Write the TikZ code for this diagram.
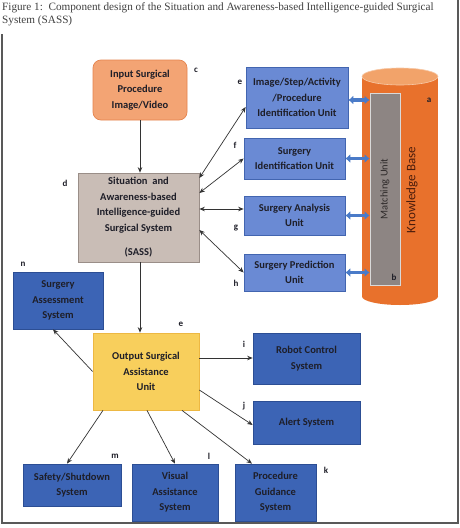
\documentclass[tikz,border=0pt]{standalone}
\usepackage{fontspec}
\setmainfont{Liberation Serif}
\newfontfamily\boxfont{Carlito}
\usetikzlibrary{calc}
\usetikzlibrary{positioning}
\usetikzlibrary{arrows.meta}

\definecolor{inputfill}{HTML}{F3A474}
\definecolor{inputdraw}{HTML}{E5844E}
\definecolor{upblue}{HTML}{6A8AD4}
\definecolor{upbluedraw}{HTML}{4265B0}
\definecolor{lowblue}{HTML}{3C64B5}
\definecolor{lowbluedraw}{HTML}{2C4E94}
\definecolor{sassgrey}{HTML}{C9BDB6}
\definecolor{sassdraw}{HTML}{9A8E88}
\definecolor{outyellow}{HTML}{F8CF5C}
\definecolor{outdraw}{HTML}{EDB843}
\definecolor{kborange}{HTML}{E8712C}
\definecolor{kbtop}{HTML}{F2A36A}
\definecolor{kbink}{HTML}{4A1C0C}
\definecolor{matchgrey}{HTML}{8D8583}
\definecolor{matchink}{HTML}{2E2A2A}
\definecolor{linkblue}{HTML}{4A7BC8}
\definecolor{inktext}{HTML}{1E1E28}

\tikzset{
  unit/.style={draw, line width=0.7pt, align=center, inner sep=1pt,
    text=inktext, font=\boxfont\bfseries\fontsize{10.5}{15.5}\selectfont},
  inputbox/.style={unit, rounded corners=8pt, fill=inputfill, draw=inputdraw},
  sassbox/.style={unit, fill=sassgrey, draw=sassdraw},
  idbox/.style={unit, fill=upblue, draw=upbluedraw},
  outbox/.style={unit, fill=outyellow, draw=outdraw},
  sysbox/.style={unit, fill=lowblue, draw=lowbluedraw},
  lbl/.style={font=\boxfont\bfseries\fontsize{9}{9}\selectfont, text=inktext, inner sep=0pt},
  flow/.style={draw=black!80, line width=0.7pt, -{Stealth[length=5.5pt,width=4.5pt]}},
  both/.style={flow, {Stealth[length=5.5pt,width=4.5pt]}-{Stealth[length=5.5pt,width=4.5pt]}},
  kblink/.style={draw=linkblue, line width=3.2pt,
    {Latex[length=5pt,width=9pt]}-{Latex[length=5pt,width=9pt]}},
}

\begin{document}
\begin{tikzpicture}[x=1pt,y=-1pt]
\useasboundingbox (0,0) rectangle (460,528);
\fill[white] (0,0) rectangle (460,528);
\draw[black!65, line width=1.2pt] (2,34) -- (2,523) -- (458,523) -- (458,0);

% title
\node[anchor=north west, inner sep=0pt, align=left, text=black!75,
      font=\fontsize{11.2}{13}\selectfont] (title) at (2,2)
  {Figure 1:\ \ Component design of the Situation and Awareness-based Intelligence-guided Surgical\\System (SASS)};

% knowledge base
\fill[kborange] (400,296.5) ellipse [x radius=38, y radius=8.5];
\fill[kborange] (362,76.5) rectangle (438,296.5);
\filldraw[fill=kbtop, draw=kbtop!60!white, line width=0.6pt] (400,76.5) ellipse [x radius=38, y radius=8.5];
\node[rotate=90, font=\boxfont\fontsize{13}{13}\selectfont, text=kbink] (kbtext) at (412,190) {Knowledge Base};
\node[draw=black!15, line width=0.8pt, fill=matchgrey, minimum width=30pt, minimum height=192pt,
      inner sep=0pt, label={[rotate=90, font=\boxfont\fontsize{10.5}{10.5}\selectfont, text=matchink]center:Matching Unit}]
      (match) at (385,189) {};

% units
\node[inputbox, minimum width=94pt, minimum height=60pt] (input) at (140,90)
  {Input Surgical\\Procedure\\Image/Video};
\node[sassbox, minimum width=121pt, minimum height=89pt] (sass) at (138.5,217.5)
  {Situation\ \ and\\Awareness-based\\Intelligence-guided\\Surgical System\\[9pt](SASS)};
\node[idbox, minimum width=102pt, minimum height=61pt] (ident) at (297,97.5)
  {Image/Step/Activity\\/Procedure\\Identification Unit};
\node[idbox, minimum width=101pt, minimum height=41pt] (surgid) at (294.5,158.5)
  {Surgery\\Identification Unit};
\node[idbox, minimum width=101pt, minimum height=39pt] (analysis) at (294.5,215.5)
  {Surgery Analysis\\Unit};
\node[idbox, minimum width=101pt, minimum height=37pt] (predict) at (294.5,272.5)
  {Surgery Prediction\\Unit};
\node[sysbox, minimum width=90pt, minimum height=57pt] (assess) at (58,300.5)
  {Surgery\\Assessment\\System};
\node[outbox, minimum width=106pt, minimum height=77pt] (output) at (146,371.5)
  {Output Surgical\\Assistance\\Unit};
\node[sysbox, minimum width=107pt, minimum height=51pt] (robot) at (306.5,358.5)
  {Robot Control\\System};
\node[sysbox, minimum width=107pt, minimum height=43pt] (alert) at (306.5,422.5)
  {Alert System};
\node[sysbox, minimum width=98pt, minimum height=42pt] (safety) at (72,485)
  {Safety/Shutdown\\System};
\node[sysbox, minimum width=86pt, minimum height=57pt] (visual) at (175,492.5)
  {Visual\\Assistance\\System};
\node[sysbox, minimum width=81pt, minimum height=57pt] (guide) at (275.5,492.5)
  {Procedure\\Guidance\\System};

% letters
\node[lbl] (la) at (429,100) {a};
\node[lbl] (lb) at (394,277) {b};
\node[lbl] (lc) at (196,70) {c};
\node[lbl] (ld) at (65,183) {d};
\node[lbl] (le) at (240,82) {e};
\node[lbl] (lf) at (235,145) {f};
\node[lbl] (lg) at (236,228) {g};
\node[lbl] (lh) at (236,283) {h};
\node[lbl] (ln) at (23,264) {n};
\node[lbl] (lo) at (181,324) {e};
\node[lbl] (li) at (244,344) {i};
\node[lbl] (lj) at (244,406) {j};
\node[lbl] (lm) at (115,456) {m};
\node[lbl] (ll) at (209,456) {l};
\node[lbl] (lk) at (326,470) {k};

% connectors
\draw[flow] (input.south) -- (input.south |- sass.north);
\draw[both] ([yshift=39.5pt]sass.east) -- ([yshift=-9.5pt]ident.west);
\draw[both] ([yshift=24.5pt]sass.east) -- (surgid.west);
\draw[both] ([yshift=8.5pt]sass.east) -- ([yshift=6.5pt]analysis.west);
\draw[both] ([yshift=-12.5pt]sass.east) -- (predict.west);
\draw[flow] (input.south |- sass.south) -- (input.south |- output.north);

\draw[kblink] ([yshift=-2.5pt]ident.east) -- ([yshift=-2.5pt]ident.east -| match.west);
\draw[kblink] (surgid.east) -- (surgid.east -| match.west);
\draw[kblink] (analysis.east) -- (analysis.east -| match.west);
\draw[kblink] (predict.east) -- (predict.east -| match.west);

\draw[flow] (output.west) -- ([xshift=-5pt]assess.south);
\draw[flow] ([yshift=13.5pt]output.east) -- ([yshift=13.5pt]output.east -| robot.west);
\draw[flow] ([yshift=-18.5pt]output.east) -- ([yshift=-2.5pt]alert.west);
\draw[flow] ([xshift=-43pt]output.south) -- ([xshift=-5pt]safety.north);
\draw[flow] ([xshift=1pt]output.south) -- (visual.north);
\draw[flow] ([xshift=36pt]output.south) -- ([xshift=-23.5pt]guide.north);
\end{tikzpicture}
\end{document}
